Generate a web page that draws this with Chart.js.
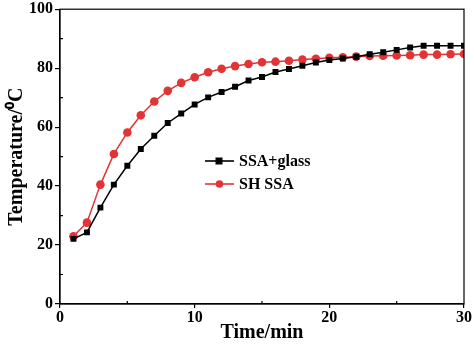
<html lang="en">
<head>
<meta charset="UTF-8">
<title>Temperature vs time</title>
<script src="https://cdn.jsdelivr.net/npm/chart.js@4.4.1/dist/chart.umd.min.js"></script>
<style>
  body { margin: 0; background: #fff; }
  #wrap { width: 474px; height: 345px; }
</style>
</head>
<body>
<div id="wrap"><canvas id="myChart"></canvas></div>
<script>
const times = [1,2,3,4,5,6,7,8,9,10,11,12,13,14,15,16,17,18,19,20,21,22,23,24,25,26,27,28,29,30];
const ssaGlass = [22.1,24.3,32.7,40.5,46.9,52.6,57.1,61.4,64.6,67.7,70.1,71.9,73.7,75.8,77.0,
                  78.7,79.7,80.8,81.9,82.8,83.3,83.9,84.7,85.4,86.2,87.0,87.6,87.6,87.6,87.6];
const shSsa = [23.0,27.6,40.5,50.9,58.2,64.0,68.7,72.3,75.0,76.9,78.6,79.8,80.7,81.4,82.0,
               82.2,82.5,82.9,83.2,83.5,83.7,83.9,84.1,84.2,84.3,84.4,84.6,84.6,84.7,84.8];
const xTicks = [0, 10, 20, 30];
const yTicks = [0, 20, 40, 60, 80, 100];

const serif = "'Liberation Serif', 'Times New Roman', serif";
const red = '#e23434';

// frame, minor ticks, legend with line + marker
const decor = {
  id: 'decor',
  afterDraw(chart) {
    const c = chart.ctx, a = chart.chartArea;
    const xs = chart.scales.x, ys = chart.scales.y;
    c.save();
    c.strokeStyle = '#000';
    c.lineWidth = 1.2;
    c.strokeRect(a.left, a.top, a.right - a.left, a.bottom - a.top);
    c.beginPath();
    for (let v = 5; v < 30; v += 10) {
      const p = xs.getPixelForValue(v);
      c.moveTo(p, a.bottom); c.lineTo(p, a.bottom - 3);
    }
    for (let v = 10; v < 100; v += 20) {
      const p = ys.getPixelForValue(v);
      c.moveTo(a.left, p); c.lineTo(a.left + 3, p);
    }
    c.stroke();

    const items = [
      { label: 'SSA+glass', color: '#000', shape: 'rect', y: 161 },
      { label: 'SH SSA', color: red, shape: 'circle', y: 184 }
    ];
    c.font = 'bold 16px ' + serif;
    c.textBaseline = 'middle';
    items.forEach(it => {
      c.strokeStyle = it.color;
      c.fillStyle = it.color;
      c.lineWidth = 1.6;
      c.beginPath(); c.moveTo(205, it.y); c.lineTo(234, it.y); c.stroke();
      if (it.shape === 'rect') c.fillRect(215.5, it.y - 3.5, 7, 7);
      else { c.beginPath(); c.arc(219.5, it.y, 3.8, 0, Math.PI * 2); c.fill(); }
      c.fillStyle = '#000';
      c.fillText(it.label, 239, it.y + 1);
    });
    c.restore();
  }
};

new Chart(document.getElementById('myChart'), {
  type: 'line',
  data: {
    datasets: [
      {
        label: 'SSA+glass',
        data: times.map((t, i) => ({ x: t, y: ssaGlass[i] })),
        borderColor: '#000', backgroundColor: '#000',
        borderWidth: 1.5, pointStyle: 'rect', pointRadius: 4.2, pointBorderWidth: 0
      },
      {
        label: 'SH SSA',
        data: times.map((t, i) => ({ x: t, y: shSsa[i] })),
        borderColor: red, backgroundColor: red,
        borderWidth: 1.5, pointStyle: 'circle', pointRadius: 4.3, pointBorderWidth: 0
      }
    ]
  },
  options: {
    responsive: true,
    maintainAspectRatio: false,
    animation: false,
    layout: { padding: { top: 0, right: 10, left: 0, bottom: 0 } },
    plugins: { legend: { display: false }, tooltip: { enabled: false } },
    scales: {
      x: {
        type: 'linear', min: 0, max: 30,
        afterBuildTicks: s => { s.ticks = xTicks.map(v => ({ value: v })); },
        afterFit: s => { s.height = 41; },
        grid: { drawOnChartArea: false, color: '#000', tickLength: 4, lineWidth: 1.2 },
        border: { color: '#000', width: 1.2 },
        ticks: { color: '#000', font: { family: serif, size: 16, weight: 'bold' }, padding: 0, maxRotation: 0 },
        title: { display: true, text: 'Time/min', color: '#000', font: { family: serif, size: 20, weight: 'bold' }, padding: { top: 0, bottom: 0 } }
      },
      y: {
        min: 0, max: 100,
        afterBuildTicks: s => { s.ticks = yTicks.map(v => ({ value: v })); },
        afterFit: s => { s.width = 60; },
        grid: { drawOnChartArea: false, color: '#000', tickLength: 5, lineWidth: 1.2 },
        border: { color: '#000', width: 1.2 },
        ticks: { color: '#000', font: { family: serif, size: 16, weight: 'bold', lineHeight: 0.9 }, padding: 2 },
        title: { display: true, text: 'Temperature/\u2070C', color: '#000', font: { family: serif, size: 20, weight: 'bold' }, padding: { top: 5, bottom: 0 } }
      }
    }
  },
  plugins: [decor]
});
</script>
</body>
</html>
